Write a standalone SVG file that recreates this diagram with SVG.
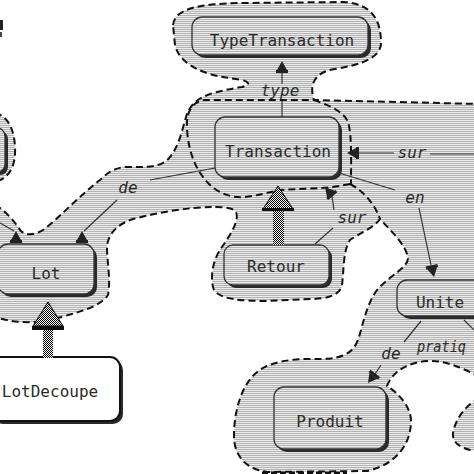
<svg xmlns="http://www.w3.org/2000/svg" xmlns:xlink="http://www.w3.org/1999/xlink" width="474" height="474" viewBox="0 0 474 474">
<defs>
<pattern id="hatch" width="4" height="2" patternUnits="userSpaceOnUse"><rect width="4" height="2" fill="#ececec"/><rect y="1" width="4" height="1" fill="#b2b2b2"/></pattern>
<pattern id="ck" width="2" height="2" patternUnits="userSpaceOnUse"><rect width="2" height="2" fill="#fff"/><rect width="1" height="1" fill="#000"/><rect x="1" y="1" width="1" height="1" fill="#000"/></pattern>
<path id="ah" d="M0,0 L-5,9 L5,9 Z M-6,9 H6 V12 H-6 Z"/>
</defs>
<style>
.reg{fill:url(#hatch);stroke:none}
.dash{fill:none;stroke:#111;stroke-width:2;stroke-dasharray:7 4}
.sh{fill:#2a2a2a}
.nd{fill:url(#hatch);stroke:#333;stroke-width:1.3}
.t{font-family:"DejaVu Sans Mono","Liberation Mono",monospace;font-size:16px;fill:#2a2a2a;text-anchor:middle}
.lb{font-family:"DejaVu Sans Mono","Liberation Mono",monospace;font-size:16px;font-style:italic;fill:#2a2a2a;text-anchor:middle}
.ln{fill:none;stroke:#333;stroke-width:1.2}
.hd{fill:#222}
</style>
<rect width="474" height="474" fill="#fff"/>
<g id="regions">
<path class="reg" d="M173,25 C175,8 200,4 240,3 L344,2 C372,4 381,20 381,43 C381,58 360,65 335,69 C314,72 309,85 314,100 L480,104 L480,377 C462,368 445,360 427,361 C405,363 392,373 387,386 C400,394 411,408 411,421 C411,445 395,465 367,471 L267,472 C245,469 234,455 234,436 C234,410 242,385 256,373 C268,362 290,359 310,359 C340,360 352,355 358,340 C363,325 366,305 377,290 C390,275 408,268 408,258 C406,245 392,232 380,219 C374,228 358,234 350,240 C343,250 344,270 342,285 C340,296 325,299 311,299 L267,301 C245,301 220,300 214,290 C210,280 212,262 220,250 C228,238 240,222 236,212 C233,207 220,207 213,207 C190,207 160,212 133,219 C118,224 108,233 107,247 C107,262 111,280 108,295 C100,307 80,312 50,320 C30,324 10,322 -5,317 L-5,205 C5,210 15,222 20,230 C25,236 35,235 43,230 C55,222 80,195 100,180 C108,172 115,168 125,167 C140,167 155,168 165,162 C178,152 182,130 186,117 C190,104 198,98 213,93 C225,90 235,88 242,87 C250,85 250,82 242,80 C230,78 220,77 210,74 C190,68 178,58 175,45 Z"/>
<path class="reg" d="M-5,113 C5,115 14,125 15,147 C16,165 10,178 -5,182 Z"/>
<path class="reg" d="M480,398 C465,405 455,420 453,433 C452,443 460,449 480,452 Z"/>
<path class="dash" d="M173,25 C175,8 200,4 240,3 L344,2 C372,4 381,20 381,43 C381,58 360,65 335,69 C314,72 309,85 314,100 L480,104 M480,377 C462,368 445,360 427,361 C405,363 392,373 387,386 C400,394 411,408 411,421 C411,445 395,465 367,471 L267,472 C245,469 234,455 234,436 C234,410 242,385 256,373 C268,362 290,359 310,359 C340,360 352,355 358,340 C363,325 366,305 377,290 C390,275 408,268 408,258 C406,245 392,232 380,219 C374,228 358,234 350,240 C343,250 344,270 342,285 C340,296 325,299 311,299 L267,301 C245,301 220,300 214,290 C210,280 212,262 220,250 C228,238 240,222 236,212 C233,207 220,207 213,207 C190,207 160,212 133,219 C118,224 108,233 107,247 C107,262 111,280 108,295 C100,307 80,312 50,320 C30,324 10,322 -5,317 M-5,205 C5,210 15,222 20,230 C25,236 35,235 43,230 C55,222 80,195 100,180 C108,172 115,168 125,167 C140,167 155,168 165,162 C178,152 182,130 186,117 C190,104 198,98 213,93 C225,90 235,88 242,87 C250,85 250,82 242,80 C230,78 220,77 210,74 C190,68 178,58 175,45 L173,25"/>
<path class="dash" d="M-5,113 C5,115 14,125 15,147 C16,165 10,178 -5,182"/>
<path class="dash" d="M480,398 C465,405 455,420 453,433 C452,443 460,449 480,452"/>
<path class="dash" d="M350,184 C340,186 330,188 320,188 L280,190 C262,194 248,198 237,197 C225,196 215,190 209,184 C195,170 188,150 187,128 C186,112 192,102 204,100 L314,100"/>
<path class="dash" d="M314,100 C325,104 343,110 348,122 C352,135 351,160 351,184"/>
<path class="dash" d="M350,184 C365,192 375,205 380,219"/>
<path d="M262,473 L347,473" fill="none" stroke="#111" stroke-width="3" stroke-dasharray="6 3"/>
<rect x="0" y="20" width="3" height="10" fill="#222"/>
<rect x="0" y="32" width="2" height="5" fill="#444"/>
</g>
<g id="node-left">
<rect class="sh" x="-17" y="131" width="25" height="44" rx="8"/>
<rect class="nd" x="-20" y="128" width="25" height="44" rx="8"/>
</g>
<g id="node-typetransaction">
<rect class="sh" x="195" y="20" width="176" height="38" rx="10"/>
<rect class="nd" x="192" y="17" width="176" height="38" rx="10"/>
<text class="t" x="282" y="46">TypeTransaction</text>
</g>
<g id="node-transaction">
<rect class="sh" x="218" y="120" width="124" height="60" rx="10"/>
<rect class="nd" x="215" y="117" width="124" height="60" rx="10"/>
<text class="t" x="278" y="157">Transaction</text>
</g>
<g id="node-retour">
<rect class="sh" x="227" y="248" width="105" height="40" rx="9"/>
<rect class="nd" x="224" y="245" width="105" height="40" rx="9"/>
<text class="t" x="276" y="272">Retour</text>
</g>
<g id="node-lot">
<rect class="sh" x="1" y="247" width="96" height="50" rx="10"/>
<rect class="nd" x="-2" y="244" width="96" height="50" rx="10"/>
<text class="t" x="46" y="279">Lot</text>
</g>
<g id="node-lotdecoupe">
<rect class="sh" x="-7" y="360" width="130" height="64" rx="10"/>
<rect x="-10" y="357" width="130" height="64" rx="10" fill="#fff" stroke="#111" stroke-width="2"/>
<text class="t" x="50" y="397">LotDecoupe</text>
</g>
<g id="node-unite">
<rect class="sh" x="400" y="283" width="100" height="36" rx="10"/>
<rect class="nd" x="397" y="280" width="100" height="36" rx="10"/>
<text class="t" x="440" y="308">Unite</text>
</g>
<g id="node-produit">
<rect class="sh" x="277" y="390" width="112" height="62" rx="10"/>
<rect class="nd" x="274" y="387" width="112" height="62" rx="10"/>
<text class="t" x="330" y="427">Produit</text>
</g>
<g id="connectors">
<path class="ln" d="M282,73 L282,84 M282,101 L282,117"/>
<use xlink:href="#ah" class="hd" transform="translate(282,61)"/>
<text class="lb" x="280" y="96">type</text>
<path class="ln" d="M359,153 L394,153 M430,154 L480,154"/>
<use xlink:href="#ah" class="hd" transform="translate(347,153) rotate(-90)"/>
<text class="lb" x="412" y="158">sur</text>
<path class="ln" d="M315,244 L333,228 M334,210 L332,196"/>
<use xlink:href="#ah" class="hd" transform="translate(325,187) rotate(-40)"/>
<text class="lb" x="352" y="223">sur</text>
<path class="ln" d="M339,173 L395,190 M419,208 L431,265"/>
<use xlink:href="#ah" class="hd" transform="translate(434,277) rotate(168)"/>
<text class="lb" x="415" y="203">en</text>
<path class="ln" d="M215,168 L150,180 M117,200 L84,231"/>
<use xlink:href="#ah" class="hd" transform="translate(82,231)"/>
<text class="lb" x="128" y="193">de</text>
<path class="ln" d="M-5,220 L14,231"/>
<use xlink:href="#ah" class="hd" transform="translate(16,231)"/>
<path class="ln" d="M421,321 L404,342 M381,365 L375,374"/>
<use xlink:href="#ah" class="hd" transform="translate(368,383) rotate(-143)"/>
<text class="lb" x="391" y="359">de</text>
<path class="ln" d="M464,320 L476,332"/>
<text class="lb" x="417" y="352" style="text-anchor:start" textLength="49" lengthAdjust="spacingAndGlyphs">pratiq</text>
<path d="M48,302 L33,326 L63,326 Z" fill="url(#ck)" stroke="#000" stroke-width="1"/>
<rect x="32" y="326" width="32" height="4" fill="#111"/>
<rect x="43" y="330" width="10" height="28" fill="url(#ck)"/>
<path d="M278,186 L263,209 L293,209 Z" fill="url(#ck)" stroke="#000" stroke-width="1"/>
<rect x="262" y="208" width="32" height="3" fill="#111"/>
<rect x="273" y="211" width="11" height="34" fill="url(#ck)"/>
</g>
</svg>
